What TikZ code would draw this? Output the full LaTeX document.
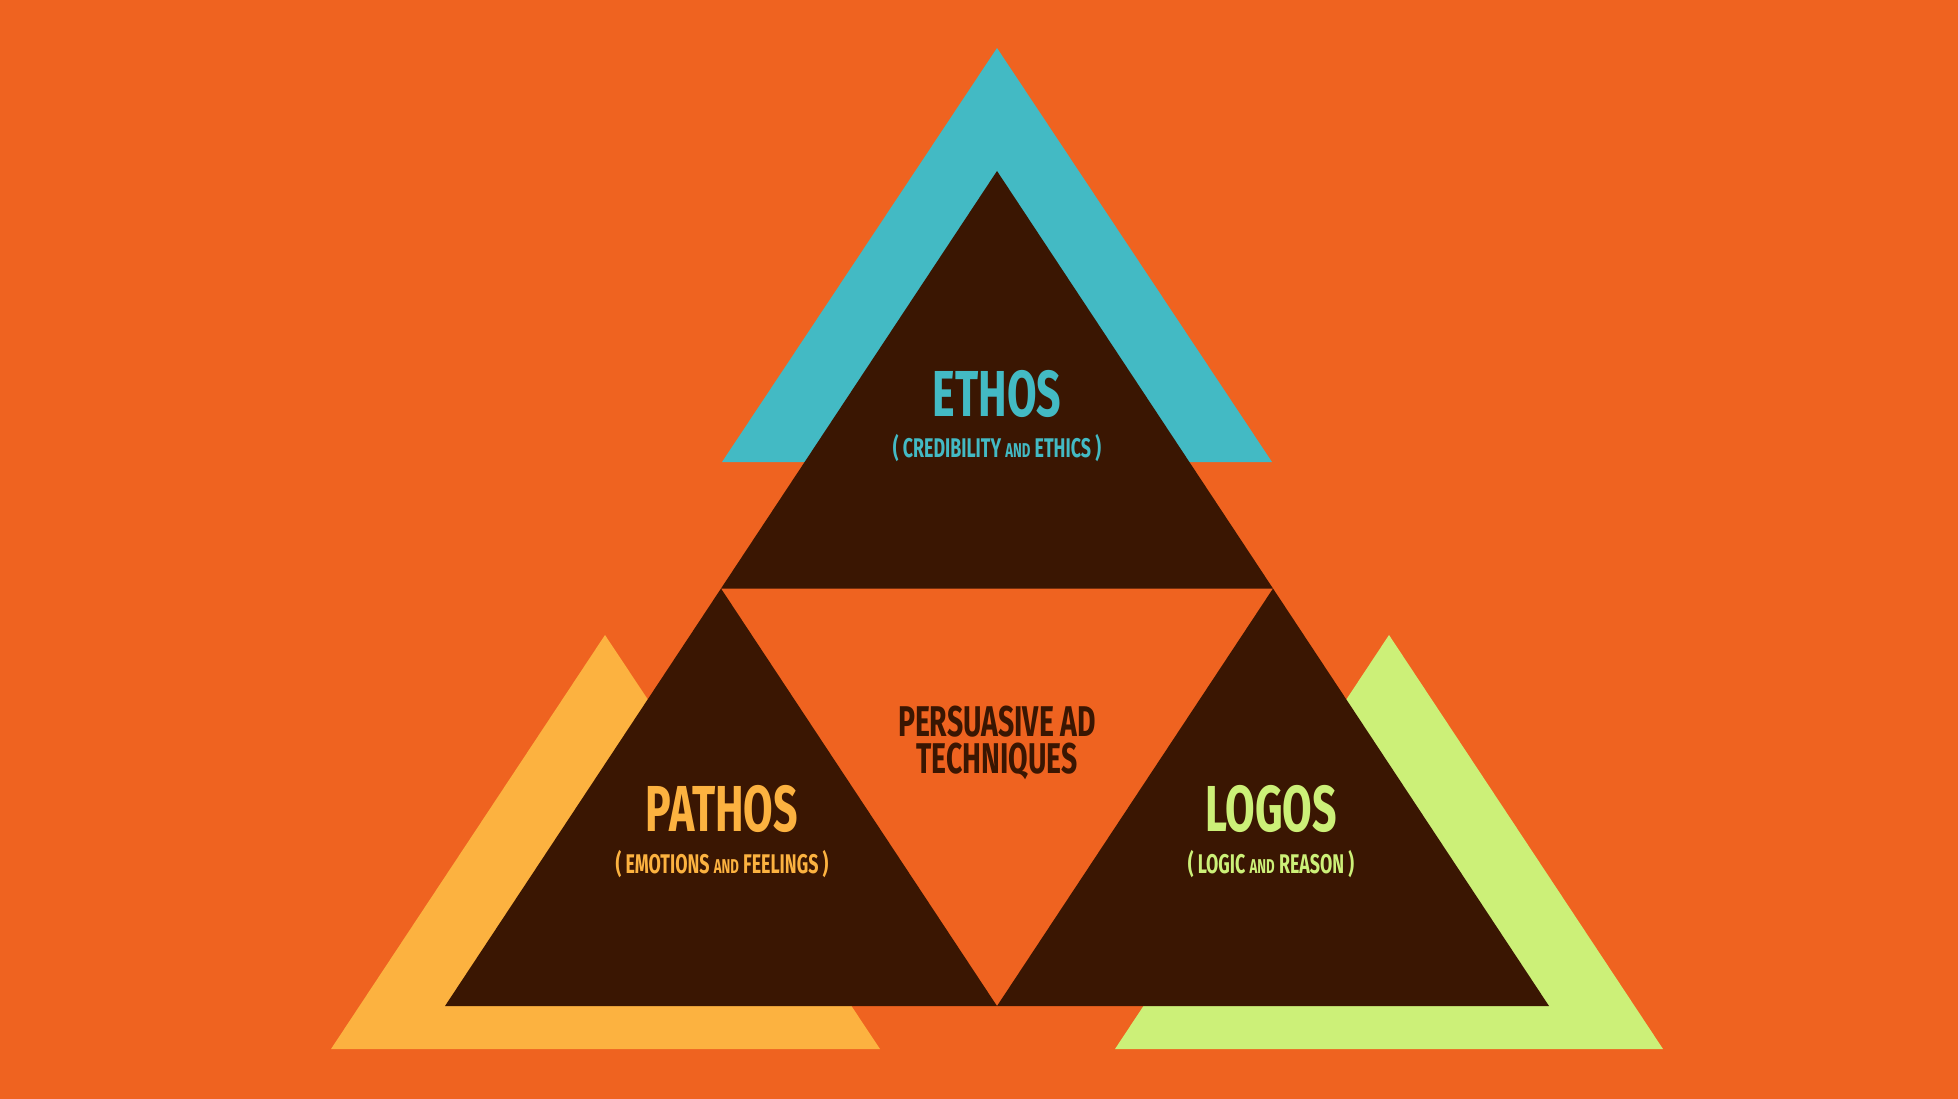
\documentclass[tikz,border=0pt]{standalone}
\usepackage{fontspec}
\setmainfont{Fira Sans}[FakeStretch=0.66]
\definecolor{hintergrund}{RGB}{239,99,32}
\definecolor{dunkel}{RGB}{58,22,2}
\definecolor{tuerkis}{RGB}{67,186,196}
\definecolor{gelb}{RGB}{252,178,64}
\definecolor{gruen}{RGB}{204,240,120}
\newcommand\kleinwort[1]{{\fontsize{20}{20}\selectfont #1}}
\begin{document}
\begin{tikzpicture}
		[x=1pt, y=-1pt,
		every node/.style={inner sep=0pt, font=\bfseries, align=center},
		titel/.style={anchor=base, font=\bfseries\fontsize{65}{65}\selectfont},
		notiz/.style={anchor=base, font=\bfseries\fontsize{27}{27}\selectfont},
		]

		\fill[hintergrund] (0,0) rectangle (1958,1099);
		% farbige Dreiecke hinten
		\fill[tuerkis] (997,48) -- (722,462) -- (1272,462) -- cycle;
		\fill[gelb] (605,635) -- (331,1049) -- (880,1049) -- cycle;
		\fill[gruen] (1389,635) -- (1115,1049) -- (1663,1049) -- cycle;
		% dunkle Dreiecke
		\coordinate (spitze) at (997,171);
		\coordinate (links) at (445,1006);
		\coordinate (rechts) at (1549,1006);
		\coordinate (ml) at (721,588.5);
		\coordinate (mr) at (1273,588.5);
		\coordinate (mu) at (997,1006);
		\fill[dunkel] (spitze) -- (ml) -- (mr) -- cycle;
		\fill[dunkel] (ml) -- (links) -- (mu) -- cycle;
		\fill[dunkel] (mr) -- (mu) -- (rechts) -- cycle;

		\node[titel, text=tuerkis] (ethos) at (997,416) {ETHOS};
		\node[notiz, text=tuerkis] (ethos notiz) at (997,457) {( CREDIBILITY \kleinwort{AND} ETHICS )};
		\node[titel, text=gelb] (pathos) at (722,831) {PATHOS};
		\node[notiz, text=gelb] (pathos notiz) at (722,873) {( EMOTIONS \kleinwort{AND} FEELINGS )};
		\node[titel, text=gruen] (logos) at (1271,831) {LOGOS};
		\node[notiz, text=gruen] (logos notiz) at (1271,873) {( LOGIC \kleinwort{AND} REASON )};
		\node[text=dunkel, font=\bfseries\fontsize{43}{37}\selectfont] (mitte) at (997,743) {PERSUASIVE AD\\TECHNIQUES};
	\end{tikzpicture}
\end{document}
